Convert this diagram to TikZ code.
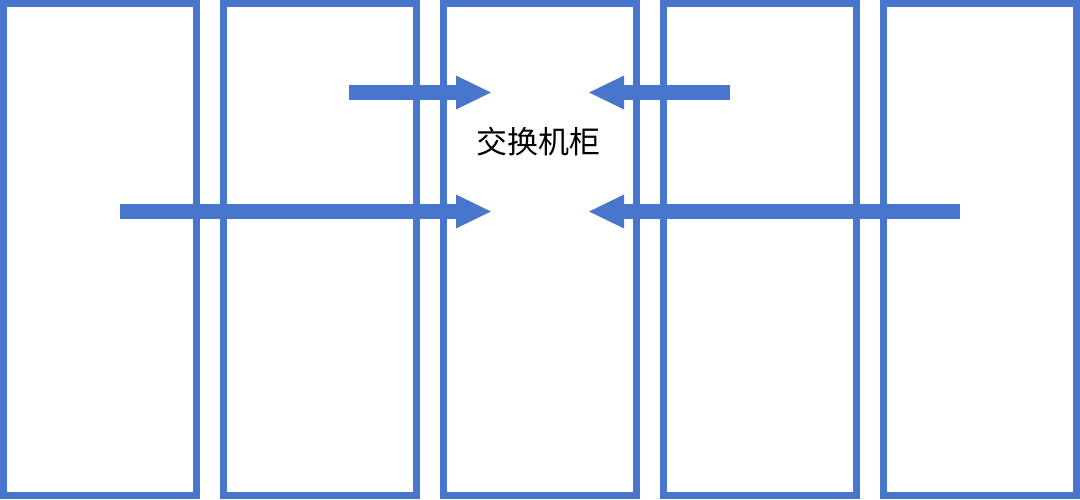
\documentclass[tikz,border=0pt]{standalone}
\usepackage{fontspec}
\newfontfamily\cjk{Noto Sans CJK SC}
\usetikzlibrary{arrows.meta}
\definecolor{rackblue}{RGB}{72,118,204}
\begin{document}
\begin{tikzpicture}[x=1pt,y=-1pt,
  rack/.style={draw=rackblue,line width=7pt,minimum width=193pt,minimum height=492pt,inner sep=0pt},
  link/.style={draw=rackblue,line width=15pt,-{Triangle[length=36pt,width=31pt]}},
  lbl/.style={font=\cjk\fontsize{31pt}{31pt}\selectfont,text=black,inner sep=0pt}]
\useasboundingbox (0,0) rectangle (1080,499);
\node[rack] (r1) at (100,249.5) {};
\node[rack] (r2) at (320,249.5) {};
\node[rack] (r3) at (540,249.5) {};
\node[rack] (r4) at (760,249.5) {};
\node[rack] (r5) at (980,249.5) {};
\node[lbl] (label) at (538,142) {交换机柜};
\coordinate (a1s) at (349,92.5);
\coordinate (a1e) at (492,92.5);
\coordinate (a2s) at (120,211.5);
\coordinate (a2e) at (492,211.5);
\coordinate (a3s) at (730,92.5);
\coordinate (a3e) at (588,92.5);
\coordinate (a4s) at (960,211.5);
\coordinate (a4e) at (588,211.5);
\draw[link] (a1s) -- (a1e);
\draw[link] (a2s) -- (a2e);
\draw[link] (a3s) -- (a3e);
\draw[link] (a4s) -- (a4e);
\end{tikzpicture}
\end{document}
